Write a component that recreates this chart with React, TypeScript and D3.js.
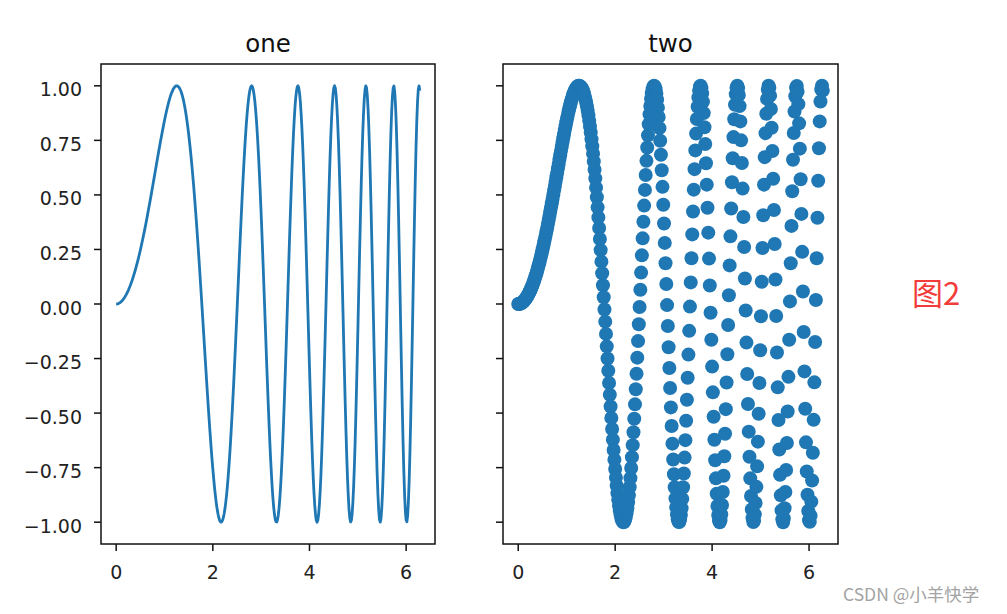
import * as d3 from "d3";

// y = sampled values, 400 evenly spaced samples from x = 0 to 2π
const ySamples = [
  0, 0, 0.001, 0.002, 0.004, 0.006, 0.009, 0.012, 0.016, 0.02,
  0.025, 0.03, 0.036, 0.042, 0.049, 0.056, 0.063, 0.072, 0.08, 0.089,
  0.099, 0.109, 0.12, 0.131, 0.142, 0.154, 0.167, 0.18, 0.193, 0.207,
  0.221, 0.236, 0.251, 0.267, 0.283, 0.299, 0.316, 0.333, 0.35, 0.368,
  0.386, 0.405, 0.424, 0.443, 0.462, 0.481, 0.501, 0.521, 0.541, 0.561,
  0.581, 0.601, 0.621, 0.642, 0.662, 0.682, 0.702, 0.721, 0.741, 0.76,
  0.778, 0.797, 0.815, 0.833, 0.85, 0.866, 0.882, 0.897, 0.911, 0.925,
  0.938, 0.949, 0.96, 0.969, 0.977, 0.985, 0.99, 0.995, 0.998, 1.0,
  1.0, 0.998, 0.995, 0.991, 0.984, 0.976, 0.966, 0.954, 0.94, 0.924,
  0.906, 0.886, 0.864, 0.84, 0.814, 0.786, 0.755, 0.723, 0.689, 0.653,
  0.615, 0.575, 0.533, 0.489, 0.443, 0.397, 0.348, 0.298, 0.247, 0.194,
  0.141, 0.086, 0.031, -0.025, -0.081, -0.137, -0.194, -0.25, -0.306, -0.362,
  -0.416, -0.47, -0.522, -0.573, -0.622, -0.669, -0.714, -0.756, -0.796, -0.833,
  -0.867, -0.897, -0.924, -0.947, -0.966, -0.981, -0.992, -0.998, -1.0, -0.997,
  -0.989, -0.976, -0.959, -0.936, -0.909, -0.877, -0.84, -0.798, -0.752, -0.702,
  -0.647, -0.588, -0.526, -0.46, -0.391, -0.32, -0.246, -0.17, -0.093, -0.014,
  0.065, 0.144, 0.223, 0.301, 0.377, 0.451, 0.523, 0.591, 0.656, 0.717,
  0.773, 0.824, 0.869, 0.908, 0.941, 0.966, 0.985, 0.996, 1.0, 0.996,
  0.984, 0.964, 0.936, 0.9, 0.857, 0.806, 0.748, 0.684, 0.613, 0.537,
  0.455, 0.369, 0.28, 0.187, 0.092, -0.005, -0.101, -0.198, -0.293, -0.385,
  -0.474, -0.559, -0.64, -0.713, -0.78, -0.84, -0.891, -0.932, -0.965, -0.987,
  -0.998, -0.999, -0.989, -0.968, -0.936, -0.893, -0.84, -0.777, -0.704, -0.624,
  -0.535, -0.439, -0.338, -0.232, -0.123, -0.012, 0.099, 0.21, 0.319, 0.424,
  0.524, 0.618, 0.704, 0.781, 0.848, 0.904, 0.947, 0.978, 0.996, 1.0,
  0.989, 0.965, 0.927, 0.875, 0.81, 0.733, 0.645, 0.547, 0.441, 0.327,
  0.208, 0.085, -0.04, -0.164, -0.287, -0.405, -0.517, -0.622, -0.716, -0.799,
  -0.87, -0.926, -0.967, -0.992, -1.0, -0.991, -0.965, -0.921, -0.862, -0.787,
  -0.698, -0.595, -0.482, -0.36, -0.23, -0.096, 0.04, 0.177, 0.31, 0.438,
  0.558, 0.668, 0.765, 0.847, 0.913, 0.962, 0.991, 1.0, 0.989, 0.958,
  0.907, 0.837, 0.75, 0.646, 0.529, 0.399, 0.261, 0.117, -0.03, -0.177,
  -0.321, -0.458, -0.585, -0.7, -0.799, -0.88, -0.942, -0.982, -0.999, -0.993,
  -0.964, -0.912, -0.838, -0.744, -0.631, -0.503, -0.362, -0.212, -0.056, 0.102,
  0.257, 0.407, 0.547, 0.673, 0.783, 0.872, 0.94, 0.982, 1.0, 0.991,
  0.955, 0.894, 0.808, 0.701, 0.574, 0.431, 0.275, 0.112, -0.055, -0.222,
  -0.382, -0.532, -0.667, -0.783, -0.877, -0.946, -0.988, -1.0, -0.983, -0.936,
  -0.862, -0.761, -0.637, -0.493, -0.334, -0.164, 0.012, 0.187, 0.358, 0.517,
  0.661, 0.784, 0.882, 0.952, 0.991, 0.999, 0.973, 0.916, 0.828, 0.712,
  0.572, 0.413, 0.239, 0.057, -0.128, -0.309, -0.48, -0.634, -0.768, -0.874,
  -0.949, -0.991, -0.998, -0.97, -0.906, -0.809, -0.682, -0.531, -0.359, -0.174,
  0.018, 0.21, 0.395, 0.565, 0.714, 0.837, 0.928, 0.983, 1.0, 0.978,
];
const xStart = 0;
const xEnd = 6.2832;

const xTicks = [0, 2, 4, 6];
const yTicks = [-1, -0.75, -0.5, -0.25, 0, 0.25, 0.5, 0.75, 1];
const yTickLabels = ["−1.00", "−0.75", "−0.50", "−0.25", "0.00", "0.25", "0.50", "0.75", "1.00"];
const titles = ["one", "two"];

const W = 1007;
const H = 614;
const top = 64;
const bottom = 544;
const panels = [
  { left: 101, right: 435 },
  { left: 503, right: 838 },
];
const blue = "#1f77b4";
const font = "DejaVu Sans, sans-serif";

const sampleX = d3.scaleLinear().domain([0, ySamples.length - 1]).range([xStart, xEnd]);
const pts = ySamples.map((y, i) => ({ x: sampleX(i), y }));

function Panel({ idx }: { idx: number }) {
  const { left, right } = panels[idx];
  const pad = (xEnd - xStart) * 0.05;
  const x = d3.scaleLinear().domain([xStart - pad, xEnd + pad]).range([left, right]);
  const y = d3.scaleLinear().domain([-1.1, 1.1]).range([bottom, top]);
  const line = d3
    .line<{ x: number; y: number }>()
    .x((d) => x(d.x))
    .y((d) => y(d.y));

  return (
    <g>
      {idx === 0 ? (
        <path d={line(pts) || ""} fill="none" stroke={blue} strokeWidth={2.8} strokeLinejoin="round" />
      ) : (
        <g fill={blue}>
          {pts.map((d, i) => (
            <circle key={i} cx={x(d.x)} cy={y(d.y)} r={7} />
          ))}
        </g>
      )}
      <rect x={left} y={top} width={right - left} height={bottom - top} fill="none" stroke="#111" strokeWidth={1.5} />
      {xTicks.map((t) => (
        <g key={t}>
          <line x1={x(t)} x2={x(t)} y1={bottom} y2={bottom + 7} stroke="#111" strokeWidth={1.5} />
          <text x={x(t)} y={579} textAnchor="middle" fontSize={19} fontFamily={font} fill="#222">
            {t}
          </text>
        </g>
      ))}
      {yTicks.map((t, i) => (
        <g key={t}>
          <line x1={left - 7} x2={left} y1={y(t)} y2={y(t)} stroke="#111" strokeWidth={1.5} />
          {idx === 0 && (
            <text x={left - 19} y={y(t) + 10.5} textAnchor="end" fontSize={19} fontFamily={font} fill="#222">
              {yTickLabels[i]}
            </text>
          )}
        </g>
      ))}
      <text x={(left + right) / 2} y={52} textAnchor="middle" fontSize={24.5} fontFamily={font} fill="#111">
        {titles[idx]}
      </text>
    </g>
  );
}

export default function App() {
  return (
    <svg
      width={W}
      height={H}
      viewBox={`0 0 ${W} ${H}`}
      style={{ position: "absolute", left: 0, top: 0, background: "#fff" }}
    >
      <rect width={W} height={H} fill="#fff" />
      <Panel idx={0} />
      <Panel idx={1} />
      <text x={912} y={305} fontSize={31} fontFamily="Noto Sans CJK SC, sans-serif" fill="#f23b3b">
        图2
      </text>
      <text x={843} y={601} fontSize={17.5} fontFamily="Noto Sans CJK SC, Noto Sans, sans-serif" fill="#a3a3a3">
        CSDN @小羊快学
      </text>
    </svg>
  );
}
